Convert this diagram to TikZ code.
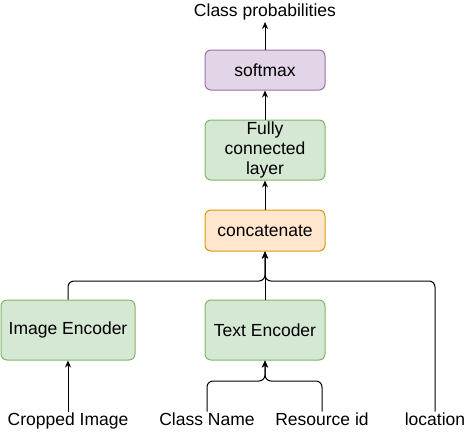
\documentclass[tikz,border=0pt]{standalone}
\usepackage{fontspec}
\setmainfont{Liberation Sans}
\usetikzlibrary{positioning,calc,arrows,arrows.meta}
\tikzset{font=\fontsize{17.5}{20}\selectfont}
\definecolor{smfill}{HTML}{E1D5E7}
\definecolor{smdraw}{HTML}{9673A6}
\definecolor{grfill}{HTML}{D5E8D4}
\definecolor{grdraw}{HTML}{82B366}
\definecolor{ccfill}{HTML}{FFE6CC}
\definecolor{ccdraw}{HTML}{D79B00}

\begin{document}
\begin{tikzpicture}[x=1pt, y=-1pt]
	\useasboundingbox (0, 0) rectangle (476, 431);
	\begin{scope}
		\tikzstyle{every node}=[align=center, inner sep=2pt]
		\tikzstyle{box}=[draw, rounded corners=6pt, line width=1pt, minimum width=120pt]
		\tikzstyle{txt}=[text height=12pt, text depth=3.5pt]
		\tikzstyle{link}=[line width=1pt, rounded corners=6pt]
		\tikzstyle{tip}=[-{Stealth[length=7pt, width=6pt]}]

		\node[txt] (cp) at (265, 12) {Class probabilities};
		\node[box, fill=smfill, draw=smdraw, minimum height=40pt] (sm) at (265, 70) {softmax};
		\node[box, fill=grfill, draw=grdraw, minimum height=60pt, inner sep=0pt] (fc) at (265, 150) {Fully\\connected\\layer};
		\node[box, fill=ccfill, draw=ccdraw, minimum height=41pt] (cc) at (265, 230.5) {concatenate};
		\node[box, fill=grfill, draw=grdraw, minimum height=60pt, minimum width=134pt] (ie) at (68, 330) {Image Encoder};
		\node[box, fill=grfill, draw=grdraw, minimum height=60pt] (te) at (265, 330) {Text Encoder};
		\node[txt] (ci) at (68, 421.5) {Cropped Image};
		\node[txt] (cn) at (207, 421.5) {Class Name};
		\node[txt] (ri) at (322, 421.5) {Resource id};
		\node[txt] (lc) at (435, 421.5) {location};

		\coordinate (jn) at (265, 281);
		\coordinate (jt) at (265, 381);

		\draw[link, tip] (sm) -- (cp);
		\draw[link, tip] (fc) -- (sm);
		\draw[link, tip] (cc) -- (fc);
		\draw[link, tip] (te) -- (cc);
		\draw[link, tip] (ie.north) |- (jn) -- (cc.south);
		\draw[link, tip] (lc.north) |- (jn) -- (cc.south);
		\draw[link, tip] (ci) -- (ie);
		\draw[link, tip] (cn.north) |- (jt) -- (te.south);
		\draw[link, tip] (ri.north) |- (jt) -- (te.south);
	\end{scope}
\end{tikzpicture}
\end{document}
